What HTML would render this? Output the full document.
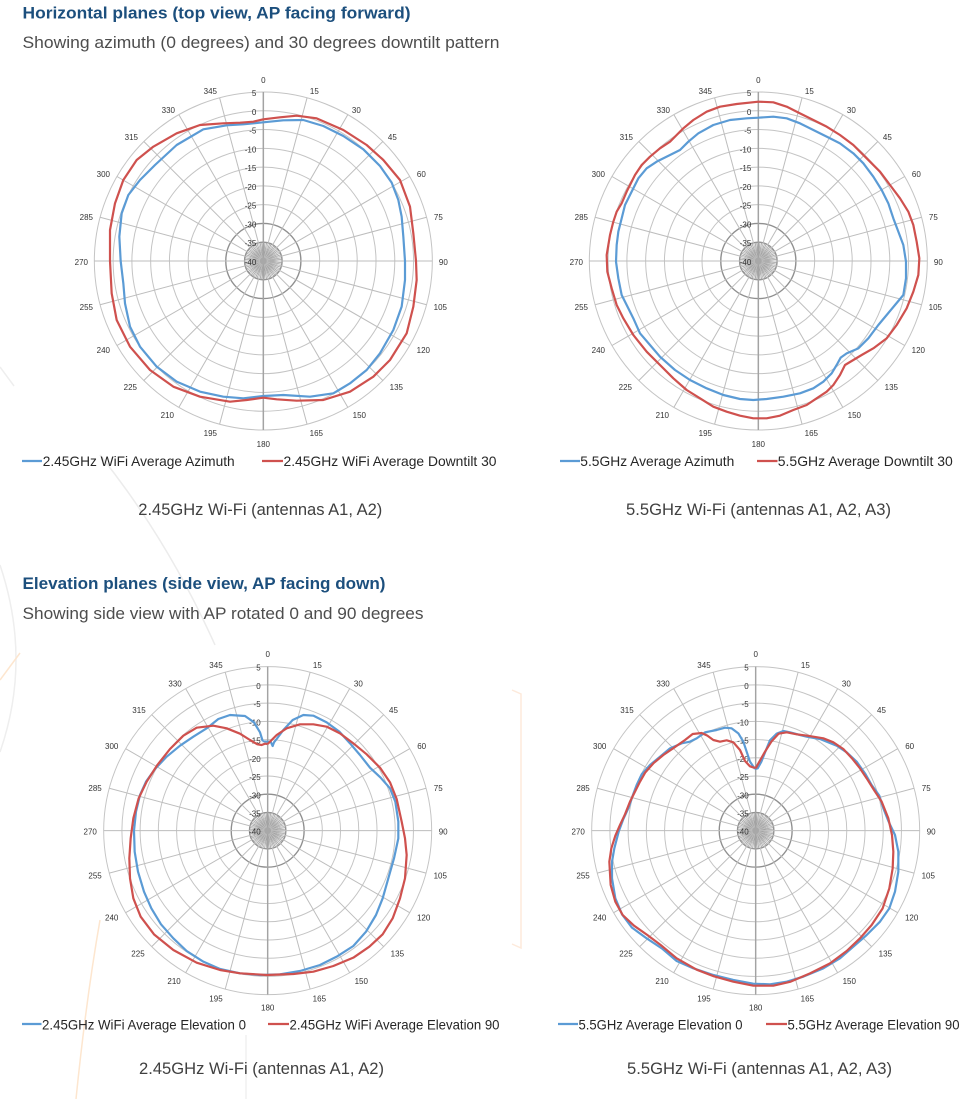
<!DOCTYPE html>
<html><head><meta charset="utf-8"><style>
html,body{margin:0;padding:0;background:#fff;}
svg{display:block;}
.ax{font-family:"Liberation Sans",sans-serif;font-size:8px;fill:#333333;text-anchor:middle;}
.db{font-family:"Liberation Sans",sans-serif;font-size:8px;fill:#333333;text-anchor:end;}
.h{font-family:"Liberation Sans",sans-serif;font-weight:bold;font-size:17px;fill:#1c4f7d;}
.s{font-family:"Liberation Sans",sans-serif;font-size:17px;fill:#4d4d4d;}
.lg{font-family:"Liberation Sans",sans-serif;font-size:14px;fill:#262626;}
.cp{font-family:"Liberation Sans",sans-serif;font-size:16.5px;fill:#404040;}
.b{fill:none;stroke:#5b9bd5;stroke-width:6.6;stroke-linejoin:round;}
.r{fill:none;stroke:#cf514e;stroke-width:6.6;stroke-linejoin:round;}
</style></head><body>
<svg width="979" height="1099" viewBox="0 0 979 1099" xmlns="http://www.w3.org/2000/svg">
<defs>
<g id="grid" fill="none">
 <g stroke="#c4c4c4" stroke-width="1">
  <circle r="56.33"/><circle r="75.11"/><circle r="93.89"/><circle r="112.67"/><circle r="131.44"/><circle r="150.22"/><circle r="169"/>
 </g>
 <g stroke="#8f8f8f" stroke-width="1.4">
  <circle r="18.78"/><circle r="37.56"/>
 </g>
 <g stroke="#a0a0a0" stroke-width="0.8">
  <line x1="0" y1="-18.78" x2="0" y2="18.78" transform="rotate(5)"/>
  <line x1="0" y1="-18.78" x2="0" y2="18.78" transform="rotate(10)"/>
  <line x1="0" y1="-18.78" x2="0" y2="18.78" transform="rotate(20)"/>
  <line x1="0" y1="-18.78" x2="0" y2="18.78" transform="rotate(25)"/>
  <line x1="0" y1="-18.78" x2="0" y2="18.78" transform="rotate(35)"/>
  <line x1="0" y1="-18.78" x2="0" y2="18.78" transform="rotate(40)"/>
  <line x1="0" y1="-18.78" x2="0" y2="18.78" transform="rotate(50)"/>
  <line x1="0" y1="-18.78" x2="0" y2="18.78" transform="rotate(55)"/>
  <line x1="0" y1="-18.78" x2="0" y2="18.78" transform="rotate(65)"/>
  <line x1="0" y1="-18.78" x2="0" y2="18.78" transform="rotate(70)"/>
  <line x1="0" y1="-18.78" x2="0" y2="18.78" transform="rotate(80)"/>
  <line x1="0" y1="-18.78" x2="0" y2="18.78" transform="rotate(85)"/>
  <line x1="0" y1="-18.78" x2="0" y2="18.78" transform="rotate(95)"/>
  <line x1="0" y1="-18.78" x2="0" y2="18.78" transform="rotate(100)"/>
  <line x1="0" y1="-18.78" x2="0" y2="18.78" transform="rotate(110)"/>
  <line x1="0" y1="-18.78" x2="0" y2="18.78" transform="rotate(115)"/>
  <line x1="0" y1="-18.78" x2="0" y2="18.78" transform="rotate(125)"/>
  <line x1="0" y1="-18.78" x2="0" y2="18.78" transform="rotate(130)"/>
  <line x1="0" y1="-18.78" x2="0" y2="18.78" transform="rotate(140)"/>
  <line x1="0" y1="-18.78" x2="0" y2="18.78" transform="rotate(145)"/>
  <line x1="0" y1="-18.78" x2="0" y2="18.78" transform="rotate(155)"/>
  <line x1="0" y1="-18.78" x2="0" y2="18.78" transform="rotate(160)"/>
  <line x1="0" y1="-18.78" x2="0" y2="18.78" transform="rotate(170)"/>
  <line x1="0" y1="-18.78" x2="0" y2="18.78" transform="rotate(175)"/>
 </g>
 <g stroke="#bdbdbd" stroke-width="1">
  <line x1="0" y1="-169" x2="0" y2="169" transform="rotate(15)"/>
  <line x1="0" y1="-169" x2="0" y2="169" transform="rotate(30)"/>
  <line x1="0" y1="-169" x2="0" y2="169" transform="rotate(45)"/>
  <line x1="0" y1="-169" x2="0" y2="169" transform="rotate(60)"/>
  <line x1="0" y1="-169" x2="0" y2="169" transform="rotate(75)"/>
  <line x1="0" y1="-169" x2="0" y2="169" transform="rotate(90)"/>
  <line x1="0" y1="-169" x2="0" y2="169" transform="rotate(105)"/>
  <line x1="0" y1="-169" x2="0" y2="169" transform="rotate(120)"/>
  <line x1="0" y1="-169" x2="0" y2="169" transform="rotate(135)"/>
  <line x1="0" y1="-169" x2="0" y2="169" transform="rotate(150)"/>
  <line x1="0" y1="-169" x2="0" y2="169" transform="rotate(165)"/>
 </g>
 <line x1="0" y1="-169" x2="0" y2="169" stroke="#a3a3a3" stroke-width="1.5"/>
 <circle r="3.5" fill="#a8a8a8" stroke="none"/>
</g>
</defs>

<rect width="979" height="1099" fill="#fff"/>

<!-- faint decorations -->
<g fill="none" stroke-width="1.5">
 <path d="M0,367 L14,386" stroke="#eeeeee"/>
 <path d="M100,455 Q168,540 215,645" stroke="#ececec"/>
 <path d="M0,565 Q32,660 0,752" stroke="#eeeeee"/>
 <path d="M0,680 L20,653" stroke="#fde6cf"/>
 <path d="M100,920 Q86,1000 76,1099" stroke="#fde6cf"/>
 <path d="M512,690 L521,694 L521,948 L512,944" stroke="#fdeadb"/>
 <path d="M246,1035 L246,1099" stroke="#f0f0f0"/>
</g>

<!-- headings -->
<text class="h" x="22.5" y="18.5" textLength="388" lengthAdjust="spacingAndGlyphs">Horizontal planes (top view, AP facing forward)</text>
<text class="s" x="22.5" y="48" textLength="477" lengthAdjust="spacingAndGlyphs">Showing azimuth (0 degrees) and 30 degrees downtilt pattern</text>
<text class="h" x="22.5" y="589" textLength="363" lengthAdjust="spacingAndGlyphs">Elevation planes (side view, AP facing down)</text>
<text class="s" x="22.5" y="619" textLength="401" lengthAdjust="spacingAndGlyphs">Showing side view with AP rotated 0 and 90 degrees</text>

<!-- grids -->
<use href="#grid" transform="translate(263.33,261)"/>
<use href="#grid" transform="translate(758.33,261)"/>
<use href="#grid" transform="translate(267.67,830.67) scale(0.9704)"/>
<use href="#grid" transform="translate(755.67,830.67) scale(0.9704)"/>

<!-- top labels -->
<g transform="translate(263.33,261)">
 <text class="ax" x="0" y="-178">0</text><text class="ax" x="51" y="-167">15</text><text class="ax" x="93" y="-148">30</text><text class="ax" x="129" y="-121">45</text><text class="ax" x="158" y="-84">60</text><text class="ax" x="175" y="-41">75</text><text class="ax" x="180" y="4">90</text><text class="ax" x="177" y="49">105</text><text class="ax" x="160" y="92">120</text><text class="ax" x="133" y="129">135</text><text class="ax" x="96" y="157">150</text><text class="ax" x="53" y="175">165</text><text class="ax" x="0" y="186">180</text><text class="ax" x="-53" y="175">195</text><text class="ax" x="-96" y="157">210</text><text class="ax" x="-133" y="129">225</text><text class="ax" x="-160" y="92">240</text><text class="ax" x="-177" y="49">255</text><text class="ax" x="-182" y="4">270</text><text class="ax" x="-177" y="-41">285</text><text class="ax" x="-160" y="-84">300</text><text class="ax" x="-132" y="-121">315</text><text class="ax" x="-95" y="-148">330</text><text class="ax" x="-53" y="-167">345</text>
 <text class="db" x="-7" y="4">-40</text><text class="db" x="-7" y="-14.8">-35</text><text class="db" x="-7" y="-33.6">-30</text><text class="db" x="-7" y="-52.3">-25</text><text class="db" x="-7" y="-71.1">-20</text><text class="db" x="-7" y="-89.9">-15</text><text class="db" x="-7" y="-108.7">-10</text><text class="db" x="-7" y="-127.4">-5</text><text class="db" x="-7" y="-146.2">0</text><text class="db" x="-7" y="-165">5</text>
</g>
<g transform="translate(758.33,261)">
 <text class="ax" x="0" y="-178">0</text><text class="ax" x="51" y="-167">15</text><text class="ax" x="93" y="-148">30</text><text class="ax" x="129" y="-121">45</text><text class="ax" x="158" y="-84">60</text><text class="ax" x="175" y="-41">75</text><text class="ax" x="180" y="4">90</text><text class="ax" x="177" y="49">105</text><text class="ax" x="160" y="92">120</text><text class="ax" x="133" y="129">135</text><text class="ax" x="96" y="157">150</text><text class="ax" x="53" y="175">165</text><text class="ax" x="0" y="186">180</text><text class="ax" x="-53" y="175">195</text><text class="ax" x="-96" y="157">210</text><text class="ax" x="-133" y="129">225</text><text class="ax" x="-160" y="92">240</text><text class="ax" x="-177" y="49">255</text><text class="ax" x="-182" y="4">270</text><text class="ax" x="-177" y="-41">285</text><text class="ax" x="-160" y="-84">300</text><text class="ax" x="-132" y="-121">315</text><text class="ax" x="-95" y="-148">330</text><text class="ax" x="-53" y="-167">345</text>
 <text class="db" x="-7" y="4">-40</text><text class="db" x="-7" y="-14.8">-35</text><text class="db" x="-7" y="-33.6">-30</text><text class="db" x="-7" y="-52.3">-25</text><text class="db" x="-7" y="-71.1">-20</text><text class="db" x="-7" y="-89.9">-15</text><text class="db" x="-7" y="-108.7">-10</text><text class="db" x="-7" y="-127.4">-5</text><text class="db" x="-7" y="-146.2">0</text><text class="db" x="-7" y="-165">5</text>
</g>
<!-- bottom labels -->
<g transform="translate(267.67,830.67)">
 <text class="ax" x="0" y="-173.5">0</text><text class="ax" x="49.7" y="-162.8">15</text><text class="ax" x="90.7" y="-144.2">30</text><text class="ax" x="125.8" y="-117.9">45</text><text class="ax" x="154" y="-81.8">60</text><text class="ax" x="170.6" y="-39.9">75</text><text class="ax" x="175.5" y="4">90</text><text class="ax" x="172.6" y="47.9">105</text><text class="ax" x="156" y="89.8">120</text><text class="ax" x="129.7" y="125.9">135</text><text class="ax" x="93.6" y="153.2">150</text><text class="ax" x="51.7" y="170.7">165</text><text class="ax" x="0" y="180">180</text><text class="ax" x="-51.7" y="170.7">195</text><text class="ax" x="-93.6" y="153.2">210</text><text class="ax" x="-129.7" y="125.9">225</text><text class="ax" x="-156" y="89.8">240</text><text class="ax" x="-172.6" y="47.9">255</text><text class="ax" x="-177.5" y="4">270</text><text class="ax" x="-172.6" y="-39.9">285</text><text class="ax" x="-156" y="-81.8">300</text><text class="ax" x="-128.7" y="-117.9">315</text><text class="ax" x="-92.6" y="-144.2">330</text><text class="ax" x="-51.7" y="-162.8">345</text>
 <text class="db" x="-7" y="4">-40</text><text class="db" x="-7" y="-14.2">-35</text><text class="db" x="-7" y="-32.4">-30</text><text class="db" x="-7" y="-50.7">-25</text><text class="db" x="-7" y="-68.9">-20</text><text class="db" x="-7" y="-87.1">-15</text><text class="db" x="-7" y="-105.3">-10</text><text class="db" x="-7" y="-123.5">-5</text><text class="db" x="-7" y="-141.8">0</text><text class="db" x="-7" y="-160">5</text>
</g>
<g transform="translate(755.67,830.67)">
 <text class="ax" x="0" y="-173.5">0</text><text class="ax" x="49.7" y="-162.8">15</text><text class="ax" x="90.7" y="-144.2">30</text><text class="ax" x="125.8" y="-117.9">45</text><text class="ax" x="154" y="-81.8">60</text><text class="ax" x="170.6" y="-39.9">75</text><text class="ax" x="175.5" y="4">90</text><text class="ax" x="172.6" y="47.9">105</text><text class="ax" x="156" y="89.8">120</text><text class="ax" x="129.7" y="125.9">135</text><text class="ax" x="93.6" y="153.2">150</text><text class="ax" x="51.7" y="170.7">165</text><text class="ax" x="0" y="180">180</text><text class="ax" x="-51.7" y="170.7">195</text><text class="ax" x="-93.6" y="153.2">210</text><text class="ax" x="-129.7" y="125.9">225</text><text class="ax" x="-156" y="89.8">240</text><text class="ax" x="-172.6" y="47.9">255</text><text class="ax" x="-177.5" y="4">270</text><text class="ax" x="-172.6" y="-39.9">285</text><text class="ax" x="-156" y="-81.8">300</text><text class="ax" x="-128.7" y="-117.9">315</text><text class="ax" x="-92.6" y="-144.2">330</text><text class="ax" x="-51.7" y="-162.8">345</text>
 <text class="db" x="-7" y="4">-40</text><text class="db" x="-7" y="-14.2">-35</text><text class="db" x="-7" y="-32.4">-30</text><text class="db" x="-7" y="-50.7">-25</text><text class="db" x="-7" y="-68.9">-20</text><text class="db" x="-7" y="-87.1">-15</text><text class="db" x="-7" y="-105.3">-10</text><text class="db" x="-7" y="-123.5">-5</text><text class="db" x="-7" y="-141.8">0</text><text class="db" x="-7" y="-160">5</text>
</g>

<!-- curves top-left -->
<g transform="translate(90,80) scale(0.333333)">
 <polyline class="b" points="520,127 580,121 640,120 700,138 760,168 820,208 870,258 905,308 925,360 935,410 940,470 945,543 945,600 935,680 910,750 870,820 830,870 780,910 730,940 660,950 580,945 520,948 460,955 400,950 330,935 260,905 200,860 150,800 120,740 105,670 100,610 92,543 88,470 95,400 115,345 150,300 195,255 260,195 340,148 410,136 460,133 520,127"/>
 <polyline class="r" points="520,118 570,112 620,107 680,115 760,150 830,195 880,240 930,300 960,380 970,460 978,543 980,600 970,680 950,760 900,840 850,890 780,935 700,960 620,962 560,958 520,953 470,960 420,965 330,950 250,920 180,870 120,800 80,720 65,640 60,543 60,450 75,370 100,300 140,240 190,200 260,160 330,135 400,130 450,128 490,125 520,118"/>
</g>
<!-- curves top-right -->
<g transform="translate(580,75) scale(0.333333)">
 <polyline class="b" points="535,128 580,125 620,130 660,145 700,165 740,185 780,205 820,235 850,265 880,305 905,345 925,385 940,430 955,470 970,510 978,560 978,610 970,660 945,690 920,720 895,750 865,790 835,820 800,835 782,848 770,870 755,895 730,920 700,940 660,955 610,965 560,972 520,975 480,972 430,960 380,940 330,915 285,885 240,845 210,810 180,775 160,730 140,690 125,660 115,610 108,560 110,510 115,470 125,430 135,390 155,350 175,310 200,280 230,260 270,240 300,225 325,200 355,175 400,150 450,135 500,130 535,128"/>
 <polyline class="r" points="535,80 580,82 620,95 660,115 700,135 740,155 780,180 820,210 860,250 900,290 930,330 960,370 985,410 1000,450 1010,500 1018,550 1015,600 1000,650 980,700 950,750 920,790 880,820 845,840 820,855 795,870 780,900 760,930 740,950 710,970 680,990 640,1005 600,1022 560,1030 520,1030 480,1022 440,1010 400,995 360,970 320,945 280,910 240,870 200,830 160,780 130,730 110,690 95,640 82,590 80,540 90,480 100,440 110,410 125,385 140,350 165,300 185,270 210,245 240,220 270,200 290,180 310,160 340,135 380,110 420,95 470,87 535,80"/>
</g>
<!-- curves bottom-left -->
<g transform="translate(80,645) scale(0.333333)">
 <polyline class="b" points="548,288 540,262 522,232 495,213 450,210 415,222 380,250 340,275 300,302 260,335 225,372 198,410 180,450 168,500 162,557 164,620 174,680 192,740 214,790 243,838 280,880 320,918 370,950 420,972 480,985 540,990 600,988 660,978 720,960 770,935 820,903 858,860 888,810 908,760 925,700 942,640 955,580 955,530 946,470 930,430 902,398 870,368 840,330 810,295 778,260 740,232 700,212 670,210 638,225 610,255 590,282 582,292 578,303 572,290 560,290 548,288"/>
 <polyline class="r" points="563,297 590,270 620,250 660,238 700,238 740,245 780,265 820,295 860,328 900,368 930,412 950,462 965,530 975,580 980,630 975,700 960,760 938,820 908,868 868,905 820,938 760,963 700,980 640,987 560,990 480,985 420,975 350,953 280,915 222,868 182,815 160,760 150,700 148,640 152,580 160,520 176,460 200,410 232,360 270,312 310,272 350,248 400,242 440,250 480,266 510,285 532,298 545,300 555,296 563,297"/>
</g>
<!-- curves bottom-right -->
<g transform="translate(570,645) scale(0.333333)">
 <polyline class="b" points="555,372 540,350 530,320 520,290 505,265 485,250 465,248 440,255 405,262 380,280 360,290 335,295 300,310 270,335 240,360 215,388 200,420 188,452 175,490 160,522 146,560 133,610 126,650 126,700 136,760 156,808 186,848 230,880 278,912 320,948 370,970 430,990 490,1005 550,1016 600,1018 650,1010 700,995 760,970 810,940 850,905 890,870 930,830 958,790 975,740 985,680 985,620 975,570 956,530 940,490 928,452 905,420 885,385 860,350 830,322 800,302 750,282 710,275 690,270 660,262 640,258 620,266 600,286 586,320 574,350 563,370 555,372"/>
 <polyline class="r" points="552,368 540,364 525,348 510,315 490,292 470,286 450,290 430,285 412,272 395,264 368,267 345,285 312,308 280,330 250,355 226,382 210,410 195,440 180,470 165,508 150,540 136,572 124,610 118,650 122,720 136,770 158,810 192,842 232,870 272,900 320,940 380,974 432,994 490,1010 550,1022 610,1022 662,1010 720,985 780,955 830,918 870,880 905,840 938,790 958,730 968,670 970,620 966,570 955,520 935,470 912,435 890,400 870,370 846,340 820,312 790,292 760,280 712,272 680,268 650,262 626,266 604,290 585,320 568,350 558,368 552,368"/>
</g>

<!-- legends top -->
<line x1="22" y1="461" x2="42" y2="461" stroke="#5b9bd5" stroke-width="2.2"/>
<text class="lg" x="42.7" y="466" textLength="192" lengthAdjust="spacingAndGlyphs">2.45GHz WiFi Average Azimuth</text>
<line x1="262" y1="461" x2="283" y2="461" stroke="#cf514e" stroke-width="2.2"/>
<text class="lg" x="283.5" y="466" textLength="213" lengthAdjust="spacingAndGlyphs">2.45GHz WiFi Average Downtilt 30</text>
<line x1="560" y1="461" x2="580" y2="461" stroke="#5b9bd5" stroke-width="2.2"/>
<text class="lg" x="580.3" y="466" textLength="154" lengthAdjust="spacingAndGlyphs">5.5GHz Average Azimuth</text>
<line x1="757" y1="461" x2="777.5" y2="461" stroke="#cf514e" stroke-width="2.2"/>
<text class="lg" x="777.8" y="466" textLength="175" lengthAdjust="spacingAndGlyphs">5.5GHz Average Downtilt 30</text>

<text class="cp" x="138.3" y="515" textLength="244" lengthAdjust="spacingAndGlyphs">2.45GHz Wi-Fi (antennas A1, A2)</text>
<text class="cp" x="626" y="515" textLength="265" lengthAdjust="spacingAndGlyphs">5.5GHz Wi-Fi (antennas A1, A2, A3)</text>

<!-- legends bottom -->
<line x1="22" y1="1024" x2="41.5" y2="1024" stroke="#5b9bd5" stroke-width="2.2"/>
<text class="lg" x="42" y="1029.5" textLength="204" lengthAdjust="spacingAndGlyphs">2.45GHz WiFi Average Elevation 0</text>
<line x1="268" y1="1024" x2="289" y2="1024" stroke="#cf514e" stroke-width="2.2"/>
<text class="lg" x="289.5" y="1029.5" textLength="210" lengthAdjust="spacingAndGlyphs">2.45GHz WiFi Average Elevation 90</text>
<line x1="558" y1="1024" x2="578" y2="1024" stroke="#5b9bd5" stroke-width="2.2"/>
<text class="lg" x="578.5" y="1029.5" textLength="164" lengthAdjust="spacingAndGlyphs">5.5GHz Average Elevation 0</text>
<line x1="766" y1="1024" x2="787" y2="1024" stroke="#cf514e" stroke-width="2.2"/>
<text class="lg" x="787.5" y="1029.5" textLength="172" lengthAdjust="spacingAndGlyphs">5.5GHz Average Elevation 90</text>

<text class="cp" x="139" y="1074" textLength="245" lengthAdjust="spacingAndGlyphs">2.45GHz Wi-Fi (antennas A1, A2)</text>
<text class="cp" x="627" y="1074" textLength="265" lengthAdjust="spacingAndGlyphs">5.5GHz Wi-Fi (antennas A1, A2, A3)</text>
</svg>
</body></html>
